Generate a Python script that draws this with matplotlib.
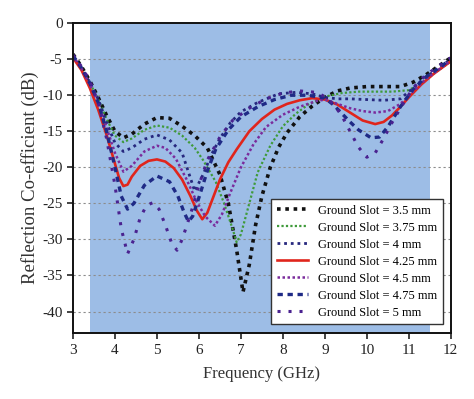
import matplotlib
matplotlib.use('Agg')
import matplotlib.pyplot as plt

plt.rcParams['font.family'] = ['Liberation Serif', 'DejaVu Serif']
plt.rcParams['axes.unicode_minus'] = False

# Frequency (GHz) / reflection co-efficient (dB)
f_35 = [3.0, 3.2, 3.4, 3.6, 3.8, 4.0, 4.2, 4.4, 4.7, 5.0, 5.3, 5.6, 5.9, 6.2, 6.5, 6.7, 6.9, 7.05, 7.2, 7.35,
        7.5, 7.7, 7.9, 8.1, 8.4, 8.7, 9.0, 9.3, 9.6, 10.0, 10.4, 10.8, 11.1, 11.4, 11.7, 12.0]
s_35 = [-4.3, -6.0, -8.0, -10.3, -12.8, -15.0, -15.9, -15.4, -14.0, -13.1, -13.2, -14.3, -15.6, -17.3, -21.0, -25.0,
        -31.5, -37.3, -33.5, -28.0, -24.0, -20.0, -17.2, -15.2, -13.0, -11.5, -10.3, -9.4, -9.0, -8.8, -8.8, -8.8,
        -8.2, -7.2, -6.0, -4.8]

f_375 = [3.0, 3.2, 3.4, 3.6, 3.8, 4.0, 4.2, 4.4, 4.7, 5.0, 5.3, 5.6, 5.9, 6.1, 6.4, 6.6, 6.8, 6.9, 7.0, 7.2, 7.4,
         7.7, 8.0, 8.3, 8.6, 9.0, 9.4, 9.8, 10.2, 10.6, 11.0, 11.3, 11.6, 12.0]
s_375 = [-4.8, -6.3, -8.3, -10.5, -13.3, -15.6, -16.5, -16.0, -14.8, -14.2, -14.5, -15.6, -17.3, -19.0, -22.0, -25.0,
         -28.5, -30.4, -29.3, -25.0, -20.7, -17.0, -14.3, -12.6, -11.3, -10.2, -9.7, -9.5, -9.5, -9.5, -9.3, -8.3,
         -7.0, -5.3]

f_4 = [3.0, 3.2, 3.4, 3.6, 3.8, 4.0, 4.2, 4.4, 4.7, 5.0, 5.3, 5.6, 5.9, 6.1, 6.3, 6.5, 6.75, 7.0, 7.4, 7.9, 8.3,
       8.7, 9.0, 9.3, 9.6, 10.0, 10.4, 10.8, 11.1, 11.4, 11.7, 12.0]
s_4 = [-4.6, -6.2, -8.2, -10.5, -13.8, -16.6, -17.8, -17.3, -16.1, -15.5, -16.2, -18.0, -23.3, -21.0, -18.2, -16.0,
       -13.8, -12.3, -11.0, -9.8, -9.6, -9.8, -10.3, -10.5, -10.5, -10.6, -10.7, -10.5, -9.0, -7.5, -6.3, -5.0]

f_425 = [3.0, 3.2, 3.4, 3.6, 3.8, 4.0, 4.1, 4.2, 4.3, 4.4, 4.6, 4.8, 5.0, 5.2, 5.4, 5.6, 5.8, 5.95, 6.08, 6.2,
         6.35, 6.5, 6.7, 6.9, 7.2, 7.5, 7.8, 8.1, 8.4, 8.7, 9.0, 9.3, 9.6, 9.9, 10.2, 10.4, 10.6, 10.8, 11.0, 11.3,
         11.6, 12.0]
s_425 = [-4.8, -6.5, -9.0, -12.0, -15.5, -19.5, -21.5, -22.6, -22.4, -21.3, -19.8, -19.1, -18.9, -19.2, -20.1, -21.7,
         -24.0, -26.0, -27.2, -26.3, -24.0, -21.7, -19.3, -17.5, -15.0, -13.3, -12.0, -11.2, -10.7, -10.4, -10.6,
         -11.3, -12.4, -13.5, -14.0, -13.7, -12.8, -11.6, -10.3, -8.5, -7.0, -5.3]

f_45 = [3.0, 3.2, 3.4, 3.6, 3.8, 4.0, 4.2, 4.4, 4.7, 5.0, 5.2, 5.45, 5.7, 5.95, 6.15, 6.38, 6.55, 6.75, 7.0, 7.3,
        7.6, 8.0, 8.4, 8.8, 9.0, 9.3, 9.6, 9.9, 10.2, 10.5, 10.8, 11.1, 11.4, 11.7, 12.0]
s_45 = [-4.5, -6.3, -8.5, -11.0, -14.5, -18.0, -20.6, -19.8, -17.8, -17.0, -17.3, -18.8, -21.6, -24.8, -26.8, -28.1,
        -26.5, -23.5, -20.0, -16.8, -14.4, -12.7, -11.6, -10.8, -10.6, -11.2, -11.8, -12.2, -12.4, -12.2, -11.2,
        -9.5, -7.8, -6.5, -5.2]

f_475 = [3.0, 3.2, 3.4, 3.6, 3.8, 4.0, 4.15, 4.3, 4.45, 4.7, 5.0, 5.3, 5.5, 5.65, 5.75, 5.85, 6.0, 6.2, 6.4, 6.7,
         7.0, 7.4, 7.8, 8.2, 8.6, 9.0, 9.2, 9.4, 9.6, 9.8, 10.1, 10.3, 10.5, 10.8, 11.1, 11.4, 11.7, 12.0]
s_475 = [-4.5, -6.2, -8.3, -11.0, -15.0, -20.0, -24.0, -25.8, -25.0, -22.5, -21.2, -22.0, -24.0, -26.3, -27.5, -26.8,
         -24.2, -20.5, -17.5, -14.8, -13.0, -11.6, -10.6, -10.0, -10.0, -10.4, -11.3, -12.5, -13.7, -14.8, -15.9,
         -15.8, -14.4, -11.6, -9.2, -7.5, -6.3, -5.0]

f_5 = [3.0, 3.2, 3.4, 3.6, 3.8, 4.0, 4.15, 4.3, 4.45, 4.6, 4.75, 4.9, 5.05, 5.2, 5.35, 5.48, 5.6, 5.8, 6.0, 6.2,
       6.5, 6.8, 7.2, 7.6, 8.0, 8.4, 8.8, 9.0, 9.2, 9.4, 9.6, 9.8, 10.0, 10.2, 10.4, 10.6, 10.8, 11.1, 11.4, 11.7,
       12.0]
s_5 = [-4.4, -6.0, -8.0, -11.0, -16.0, -22.5, -28.5, -32.0, -30.0, -27.0, -25.3, -24.9, -25.8, -28.0, -30.5, -31.5,
       -30.0, -26.5, -22.5, -19.0, -15.8, -13.5, -11.8, -10.5, -9.7, -9.4, -9.6, -10.2, -11.2, -12.8, -15.0, -17.2,
       -18.6, -18.0, -16.0, -13.8, -11.8, -9.0, -7.2, -6.0, -4.8]

labels = ['Ground Slot = 3.5 mm', 'Ground Slot = 3.75 mm', 'Ground Slot = 4 mm', 'Ground Slot = 4.25 mm',
          'Ground Slot = 4.5 mm', 'Ground Slot = 4.75 mm', 'Ground Slot = 5 mm']
band = (3.4, 11.5)
xticks = list(range(3, 13))
yticks = list(range(-40, 1, 5))

fig = plt.figure(figsize=(4.74, 3.99), dpi=100)
ax = fig.add_axes([0.154, 0.165, 0.797, 0.777])

ax.axvspan(band[0], band[1], color='#9dbde6', zorder=0, lw=0)
for y in yticks[:-1]:
    ax.axhline(y, color='#8c8c8c', lw=0.8, ls=(0, (2, 2.5)), zorder=0.5)

# line styles: (colour, width, dash pattern)
ax.plot(f_35, s_35, color='#111111', lw=2.6, ls=(0, (1, 1.3)), label=labels[0])
ax.plot(f_375, s_375, color='#3f9a3a', lw=1.6, ls=(0, (1, 1)), label=labels[1])
ax.plot(f_4, s_4, color='#27287e', lw=2.0, ls=(0, (1, 1.4)), label=labels[2])
ax.plot(f_425, s_425, color='#e0251c', lw=1.9, ls='-', label=labels[3])
ax.plot(f_45, s_45, color='#7a2b9c', lw=1.8, ls=(0, (1, 1)), label=labels[4])
ax.plot(f_475, s_475, color='#1f2a86', lw=2.4, ls=(0, (1.6, 1.4)), label=labels[5])
ax.plot(f_5, s_5, color='#4a2290', lw=2.2, ls=(0, (1, 2.6)), label=labels[6])

ax.set_xlim(3, 12)
ax.set_ylim(-43, 0)
ax.set_xticks(xticks)
ax.set_yticks(yticks)
ax.tick_params(direction='out', length=4, width=1.2, labelsize=11, colors='#222222')
for sp in ax.spines.values():
    sp.set_linewidth(1.4)
    sp.set_color('#111111')

ax.set_xlabel('Frequency (GHz)', fontsize=12, color='#333333', labelpad=7)
ax.set_ylabel('Reflection Co-efficient (dB)', fontsize=13.5, color='#333333', labelpad=2)

leg = ax.legend(loc='lower right', bbox_to_anchor=(0.979, 0.029), borderaxespad=0, fontsize=9,
                fancybox=False, framealpha=1, edgecolor='#333333', handlelength=2.5,
                handletextpad=0.8, labelspacing=0.4, borderpad=0.45)
leg.get_frame().set_linewidth(1.0)

fig.savefig('out.png', dpi=100)
